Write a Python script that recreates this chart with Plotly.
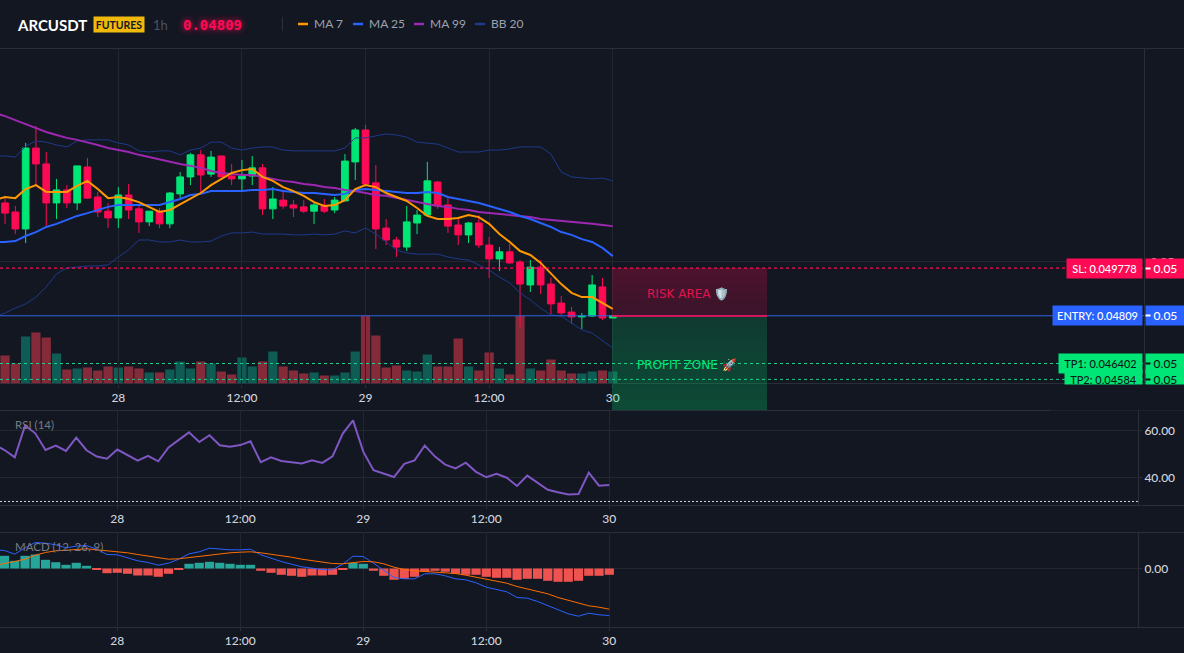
import numpy as np
import plotly.graph_objects as go

W, H = 1184, 653
BG = "#131722"
GRID = "#22262f"
BORDER = "#2a2e39"
UP = "#00e676"
DOWN = "#ff0a54"
FONT = "Lato"

# hourly candles, 0 = 27th 13:00, 59 = 30th 00:00 (prices in 1e-5 USDT)
opens = np.array([5208, 5176, 5116, 5402, 5346, 5208, 5254, 5208, 5335, 5229,
                  5179, 5155, 5236, 5187, 5141, 5179, 5134, 5240, 5300, 5378,
                  5310, 5374, 5303, 5293, 5303, 5332, 5187, 5218, 5201, 5194,
                  5179, 5197, 5183, 5215, 5353, 5466, 5279, 5119, 5077, 5052,
                  5137, 5165, 5282, 5201, 5130, 5095, 5137, 5059, 5010, 5035,
                  4999, 4918, 4981, 4921, 4854, 4822, 4805, 4808, 4911, 4801]) / 1e5
highs = np.array([5225, 5197, 5420, 5480, 5388, 5293, 5271, 5339, 5367, 5247,
                  5208, 5264, 5275, 5204, 5179, 5190, 5247, 5317, 5385, 5395,
                  5392, 5374, 5346, 5360, 5374, 5346, 5264, 5247, 5218, 5218,
                  5208, 5222, 5229, 5381, 5473, 5484, 5342, 5151, 5088, 5197,
                  5183, 5353, 5286, 5229, 5155, 5141, 5165, 5088, 5052, 5063,
                  5006, 5006, 5006, 4943, 4879, 4840, 4819, 4953, 4943, 4809]) / 1e5
lows = np.array([5134, 5098, 5066, 5271, 5126, 5151, 5190, 5183, 5222, 5158,
                 5119, 5119, 5151, 5102, 5126, 5119, 5119, 5225, 5271, 5247,
                 5300, 5300, 5271, 5250, 5271, 5165, 5151, 5187, 5158, 5172,
                 5134, 5172, 5172, 5215, 5289, 5275, 5045, 5059, 5017, 5038,
                 5098, 5165, 5187, 5102, 5059, 5066, 5049, 4943, 4967, 4992,
                 4769, 4893, 4886, 4815, 4812, 4780, 4762, 4805, 4794, 4801]) / 1e5
closes = np.array([5172, 5116, 5402, 5346, 5208, 5254, 5208, 5339, 5225, 5176,
                   5155, 5236, 5183, 5141, 5179, 5134, 5243, 5300, 5378, 5307,
                   5370, 5300, 5293, 5303, 5332, 5187, 5222, 5197, 5190, 5179,
                   5201, 5179, 5218, 5356, 5466, 5275, 5116, 5077, 5052, 5141,
                   5165, 5286, 5197, 5126, 5095, 5137, 5059, 5010, 5035, 4996,
                   4921, 4981, 4918, 4851, 4819, 4805, 4808, 4918, 4801, 4809]) / 1e5
volumes = [28, 20, 47, 51, 46, 30, 14, 15, 16, 13,
           17, 16, 17, 15, 11, 11, 14, 22, 15, 22,
           20, 12, 9, 26, 17, 22, 32, 17, 13, 10,
           11, 8, 8, 11, 32, 80, 48, 16, 18, 13,
           12, 29, 17, 17, 45, 17, 13, 31, 15, 9,
           72, 15, 13, 24, 13, 10, 10, 12, 13, 12]

# indicator lines start one hour earlier so they reach the left edge
ma7 = np.array([5218, 5229, 5225, 5257, 5271, 5247, 5247, 5247, 5268, 5286,
                5257, 5225, 5229, 5222, 5211, 5194, 5176, 5183, 5204, 5225,
                5243, 5271, 5293, 5314, 5324, 5328, 5300, 5286, 5264, 5250,
                5233, 5211, 5197, 5201, 5218, 5257, 5271, 5264, 5243, 5229,
                5215, 5190, 5162, 5151, 5151, 5155, 5165, 5158, 5134, 5098,
                5070, 5038, 5024, 4996, 4957, 4921, 4890, 4875, 4875, 4854, 4833]) / 1e5
ma25 = np.array([5070, 5070, 5073, 5091, 5105, 5123, 5134, 5148, 5162, 5172,
                 5183, 5194, 5201, 5201, 5201, 5201, 5201, 5211, 5222, 5236,
                 5240, 5250, 5250, 5250, 5250, 5254, 5254, 5257, 5250, 5247,
                 5243, 5243, 5240, 5236, 5240, 5254, 5257, 5254, 5250, 5247,
                 5243, 5243, 5247, 5243, 5229, 5222, 5215, 5208, 5197, 5187,
                 5176, 5162, 5151, 5137, 5123, 5105, 5095, 5080, 5070, 5049, 5020]) / 1e5
ma99 = np.array([5526, 5515, 5501, 5487, 5473, 5459, 5448, 5438, 5431, 5423,
                 5413, 5402, 5395, 5388, 5378, 5370, 5360, 5353, 5346, 5339,
                 5332, 5321, 5314, 5310, 5307, 5307, 5300, 5293, 5286, 5282,
                 5275, 5271, 5264, 5261, 5254, 5250, 5243, 5236, 5233, 5225,
                 5218, 5211, 5204, 5197, 5194, 5187, 5183, 5176, 5172, 5169,
                 5165, 5162, 5158, 5151, 5148, 5144, 5141, 5137, 5134, 5130, 5126]) / 1e5
bb_upper = np.array([5374, 5374, 5370, 5409, 5427, 5423, 5413, 5406, 5427, 5431,
                     5431, 5431, 5420, 5413, 5392, 5388, 5392, 5392, 5378, 5395,
                     5402, 5423, 5423, 5402, 5395, 5402, 5406, 5406, 5395, 5392,
                     5392, 5392, 5392, 5392, 5402, 5438, 5438, 5445, 5452, 5448,
                     5441, 5423, 5420, 5416, 5402, 5388, 5388, 5388, 5395, 5395,
                     5399, 5406, 5406, 5406, 5381, 5317, 5300, 5296, 5293, 5296, 5286]) / 1e5
bb_lower = np.array([4805, 4819, 4836, 4851, 4875, 4911, 4957, 4978, 4981, 4985,
                     4985, 4989, 5017, 5042, 5077, 5077, 5070, 5070, 5077, 5070,
                     5070, 5073, 5091, 5102, 5102, 5105, 5098, 5098, 5098, 5095,
                     5095, 5098, 5095, 5098, 5109, 5102, 5119, 5098, 5070, 5042,
                     5031, 5027, 5027, 5027, 5017, 5010, 5006, 4989, 4971, 4946,
                     4925, 4890, 4865, 4836, 4812, 4808, 4783, 4759, 4748, 4723, 4695]) / 1e5

rsi = [54.3, 51.9, 48.8, 62.3, 59.0, 51.9, 53.8, 51.5, 57.2, 51.8,
       49.1, 48.2, 52.1, 49.8, 47.4, 49.4, 47.1, 53.0, 56.2, 59.4,
       55.3, 58.2, 53.9, 53.3, 54.0, 55.6, 46.7, 48.8, 47.2, 46.8,
       46.2, 47.5, 46.4, 49.2, 58.9, 64.5, 51.2, 43.3, 41.7, 40.4,
       46.0, 47.5, 53.8, 49.1, 45.7, 44.1, 46.5, 42.6, 40.3, 41.8,
       40.1, 36.6, 41.0, 38.0, 35.0, 33.9, 33.0, 33.2, 42.3, 36.7, 37.0]

# MACD in 1e-5 USDT
macd_hist = np.array([12.7, 7.7, 12.7, 14, 8.7, 6.3, 3.7, 5.7, 2.7, -1.3,
                      -4.7, -4.3, -5.3, -7, -7, -8.3, -5.3, -1.3, 4.7, 5.7,
                      6.7, 5.7, 4.7, 3.7, 3.7, -2.3, -4.3, -6.3, -7.3, -8.3,
                      -7, -7, -6.3, -1.3, 5.7, 4.7, -2.3, -7.3, -11.3, -10.3,
                      -8.3, -3.3, -2.3, -3.3, -5.3, -6.3, -6.3, -8.3, -9.3, -9.3,
                      -11.3, -10.3, -10.3, -12.3, -13.3, -13.3, -12.3, -7.3, -7.3, -6.3]) / 1e5
macd_line = np.array([18.7, 18, 14.3, 20.7, 26, 25.3, 23.7, 20.7, 22.3, 23,
                      19.3, 14, 13.7, 11, 7.7, 6, 3.3, 5.3, 9.3, 14.7,
                      16.7, 20.3, 19.3, 18.7, 18.7, 19.3, 13.7, 10.3, 7, 4.3,
                      1.7, 0.3, -1, -1.3, 4.3, 12.3, 12, 5.3, -2, -9,
                      -10.3, -10.3, -5.3, -5.3, -7.3, -10.3, -11.3, -14.3, -18.7, -20.7,
                      -23.3, -29, -29.7, -33, -37.3, -41.3, -45.3, -47.7, -44.7, -46.3, -47]) / 1e5
macd_signal = np.array([3, 4.7, 7, 9.3, 13.3, 16, 17.7, 18.3, 19.3, 19.7,
                        18.7, 17.7, 17, 15.7, 14, 12.3, 10.3, 9.3, 9.7, 11,
                        12.3, 13.7, 14.7, 15.7, 16.3, 16.7, 15.7, 14.3, 13, 11.3,
                        9.3, 7.7, 6.3, 5, 4.7, 5.7, 7, 6.7, 4.7, 1.3,
                        -1, -2.3, -3, -3.3, -4.3, -5, -6.7, -8.7, -10.7, -12.7,
                        -14.7, -18, -20.3, -22.7, -25.3, -29, -32, -35, -37.3, -38.7, -40.7]) / 1e5

tick_idx = [11, 23, 35, 47, 59]
tick_labels = ["28", "12:00", "29", "12:00", "30"]

SL = 0.049778
ENTRY = 0.04809
TP1 = 0.046402
TP2 = 0.04584

# box shading, top to bottom
risk_alpha = [0.245, 0.23, 0.215, 0.20, 0.185, 0.175]
profit_alpha = [0.18, 0.19, 0.20, 0.21, 0.22, 0.23, 0.24, 0.25]

candle_x = list(range(60))
line_x = list(range(-1, 60))
is_up = closes >= opens


def px(x):
    return x / W


def py(y):
    return 1 - y / H


fig = go.Figure()

# volume has to sit below the candles so it goes first
fig.add_trace(go.Bar(x=candle_x, y=volumes, xaxis="x", yaxis="y", marker_line_width=0,
                     marker_color=["#0f5c54" if u else "#852a38" for u in is_up]))
fig.add_trace(go.Candlestick(x=candle_x, open=opens, high=highs, low=lows, close=closes,
                             xaxis="x", yaxis="y2", whiskerwidth=0,
                             increasing=dict(line=dict(color=UP, width=1), fillcolor=UP),
                             decreasing=dict(line=dict(color=DOWN, width=1), fillcolor=DOWN)))
for values, color, width in [(bb_upper, "#1e3a8a", 1), (bb_lower, "#1e3a8a", 1),
                             (ma99, "#9c27b0", 2), (ma25, "#2962ff", 2), (ma7, "#ff9800", 2)]:
    fig.add_trace(go.Scatter(x=line_x, y=values, mode="lines", xaxis="x", yaxis="y2",
                             line=dict(color=color, width=width)))

fig.add_trace(go.Scatter(x=line_x, y=rsi, mode="lines", xaxis="x2", yaxis="y3",
                         line=dict(color="#7e57c2", width=2)))

fig.add_trace(go.Bar(x=candle_x, y=macd_hist, xaxis="x3", yaxis="y4", marker_line_width=0,
                     marker_color=["#26a69a" if v >= 0 else "#ef5350" for v in macd_hist]))
fig.add_trace(go.Scatter(x=line_x, y=macd_line, mode="lines", xaxis="x3", yaxis="y4",
                         line=dict(color="#2962ff", width=1)))
fig.add_trace(go.Scatter(x=line_x, y=macd_signal, mode="lines", xaxis="x3", yaxis="y4",
                         line=dict(color="#ff6d00", width=1)))

tick_font = dict(family=FONT, size=12, color="#d1d4dc", weight=500)
x_common = dict(tickvals=tick_idx, ticktext=tick_labels, tickfont=tick_font, gridcolor=GRID,
                ticks="outside", ticklen=3, tickcolor=BORDER, zeroline=False, showline=False)
y_common = dict(side="right", tickfont=tick_font, gridcolor=GRID, zeroline=False,
                showline=True, linecolor=BORDER, ticks="outside", ticklen=3, tickcolor=BORDER,
                tickformat=".2f")

# plot area stays transparent, an opaque price pane would hide the volume pane under it
fig.update_layout(
    width=W, height=H, margin=dict(l=0, r=0, t=0, b=0), autosize=False,
    paper_bgcolor=BG, plot_bgcolor="rgba(0,0,0,0)", showlegend=False,
    bargap=0.1, boxgap=0.35, boxgroupgap=0,
    xaxis=dict(domain=[0, px(1144)], range=[-0.49, 110.58], anchor="y2",
               rangeslider_visible=False, **x_common),
    yaxis=dict(domain=[py(383.5), py(315.5)], range=[0, 68], anchor="x", visible=False),
    yaxis2=dict(domain=[py(383.5), py(49)], range=[0.045695, 0.057523], anchor="x",
                tickvals=[0.05], **y_common),
    xaxis2=dict(domain=[0, px(1138)], range=[-0.44, 110.58], anchor="y3", **x_common),
    yaxis3=dict(domain=[py(505), py(411)], range=[28.5, 68.5], anchor="x2",
                tickvals=[40, 60], **y_common),
    xaxis3=dict(domain=[0, px(1138)], range=[-0.44, 110.58], anchor="y4", **x_common),
    yaxis4=dict(domain=[py(627), py(532)], range=[-58.5e-5, 36.5e-5], anchor="x3",
                tickvals=[0], **y_common),
)

shapes = []
# pane separators
for y in [48.5, 383.5, 410.5, 505.5, 532.5, 627.5]:
    shapes.append(dict(type="line", xref="paper", yref="paper", x0=0, x1=1, y0=py(y), y1=py(y),
                       line=dict(color=BORDER, width=1), layer="below"))
# order lines
for price, color, dash, lw in [(SL, DOWN, "3px,3px", 1.2), (ENTRY, "#2f62e0", "solid", 1),
                               (TP1, "#1fd18f", "3px,3px", 1), (TP2, "#1fd18f", "3px,3px", 1)]:
    shapes.append(dict(type="line", xref="x domain", yref="y2", x0=0, x1=1, y0=price, y1=price,
                       line=dict(color=color, width=lw, dash=dash), layer="above"))
shapes.append(dict(type="line", xref="x2 domain", yref="y3", x0=0, x1=1, y0=30, y1=30,
                   line=dict(color="#d1d4dc", width=1, dash="2px,2px"), layer="above"))

# risk and profit boxes, they run past the bottom of the price pane
for i, a in enumerate(risk_alpha):
    shapes.append(dict(type="rect", xref="paper", yref="paper", x0=px(612), x1=px(767),
                       y0=py(268 + 8 * (i + 1)), y1=py(268 + 8 * i),
                       fillcolor=f"rgba(255,10,84,{a})", line_width=0, layer="above"))
for i, a in enumerate(profit_alpha):
    bottom = 410 if i == len(profit_alpha) - 1 else 316 + 12 * (i + 1)
    shapes.append(dict(type="rect", xref="paper", yref="paper", x0=px(612), x1=px(767),
                       y0=py(bottom), y1=py(316 + 12 * i),
                       fillcolor=f"rgba(0,230,118,{a})", line_width=0, layer="above"))
shapes.append(dict(type="line", xref="paper", yref="paper", x0=px(612), x1=px(767),
                   y0=py(316), y1=py(316), line=dict(color=DOWN, width=1.5), layer="above"))

# header separator and legend dashes
shapes.append(dict(type="line", xref="paper", yref="paper", x0=px(282.5), x1=px(282.5),
                   y0=py(17), y1=py(31), line=dict(color=BORDER, width=1)))
legend_items = [("MA 7", "#ff9800", 298), ("MA 25", "#2962ff", 353),
                ("MA 99", "#9c27b0", 414), ("BB 20", "#1e3a8a", 475)]
for name, color, x0 in legend_items:
    shapes.append(dict(type="line", xref="paper", yref="paper", x0=px(x0), x1=px(x0 + 10),
                       y0=py(24), y1=py(24), line=dict(color=color, width=2.5)))
fig.update_layout(shapes=shapes)


def text(x, y, s, size=12, color="#d1d4dc", family=FONT, anchor="left", **kw):
    fig.add_annotation(x=px(x), y=py(y), xref="paper", yref="paper", text=s, showarrow=False,
                       xanchor=anchor, yanchor="middle", borderpad=0,
                       font=dict(family=family, size=size, color=color, **kw))


def price_tag(price, s, value, color, text_color, tick_color, left):
    # text box left of the axis and value box right of it, both centred on the price
    fig.add_annotation(x=px(1143), y=price, xref="paper", yref="y2", text=s, showarrow=False,
                       xanchor="right", yanchor="middle", width=1143 - left, height=19,
                       bgcolor=color, borderpad=0, align="center",
                       font=dict(family=FONT, size=11, color=text_color, weight=500))
    fig.add_annotation(x=px(1145), y=price, xref="paper", yref="y2", text=value, showarrow=False,
                       xanchor="left", yanchor="middle", width=39, height=19,
                       bgcolor=color, borderpad=0, align="center",
                       font=dict(family=FONT, size=12, color=text_color, weight=500))
    fig.add_annotation(x=px(1145), y=price, xref="paper", yref="y2", text=" ", showarrow=False,
                       xanchor="left", yanchor="middle", width=4, height=1,
                       bgcolor=tick_color, borderpad=0, font=dict(size=1))


text(16, 24.5, "<b>ARCUSDT</b>", size=15, color="#ffffff")
fig.add_annotation(x=px(93), y=py(24.5), xref="paper", yref="paper", text="FUTURES", showarrow=False,
                   xanchor="left", yanchor="middle", width=50, height=15, bgcolor="#f0b90b",
                   borderpad=0, align="center", font=dict(family=FONT, size=10.5, color="#131722", weight=700))
text(152, 24.5, "1h", size=13, color="#4a5266")
text(182, 24.5, "<b>0.04809</b>", size=14, color=DOWN, family="DejaVu Sans Mono",
     shadow="0 0 6px #ff0a54")
for name, color, x0 in legend_items:
    text(x0 + 15, 24, name, size=12, color="#9ca3af")

text(14, 424, "RSI (14)", size=11.5, color="#787b86")
text(14, 546, "MACD (12, 26, 9)", size=11.5, color="#787b86")

text(646, 294, "RISK AREA 🛡️", size=12, color="#e0124f", family="DejaVu Sans")
text(636, 365, "PROFIT ZONE 🚀", size=12, color=UP, family="DejaVu Sans")

price_tag(SL, "SL: 0.049778", "0.05", DOWN, "#ffffff", "#ffffff", 1068)
price_tag(ENTRY, "ENTRY: 0.04809", "0.05", "#2962ff", "#ffffff", "#ffffff", 1054)
price_tag(TP2, "TP2: 0.04584", "0.05", UP, "#0b1a14", "#0b1a14", 1066)
price_tag(TP1, "TP1: 0.046402", "0.05", UP, "#0b1a14", "#0b1a14", 1060)
# the TP2 tag is cut off by the bottom of the price pane
fig.add_annotation(x=px(1050), y=py(384), xref="paper", yref="paper", text=" ", showarrow=False,
                   xanchor="left", yanchor="top", width=134, height=25, bgcolor=BG, borderpad=0)

# the page's default body margin would push the figure off the window
fig.write_html("out.html", config={"displayModeBar": False},
               post_script="document.body.style.margin = '0';")
